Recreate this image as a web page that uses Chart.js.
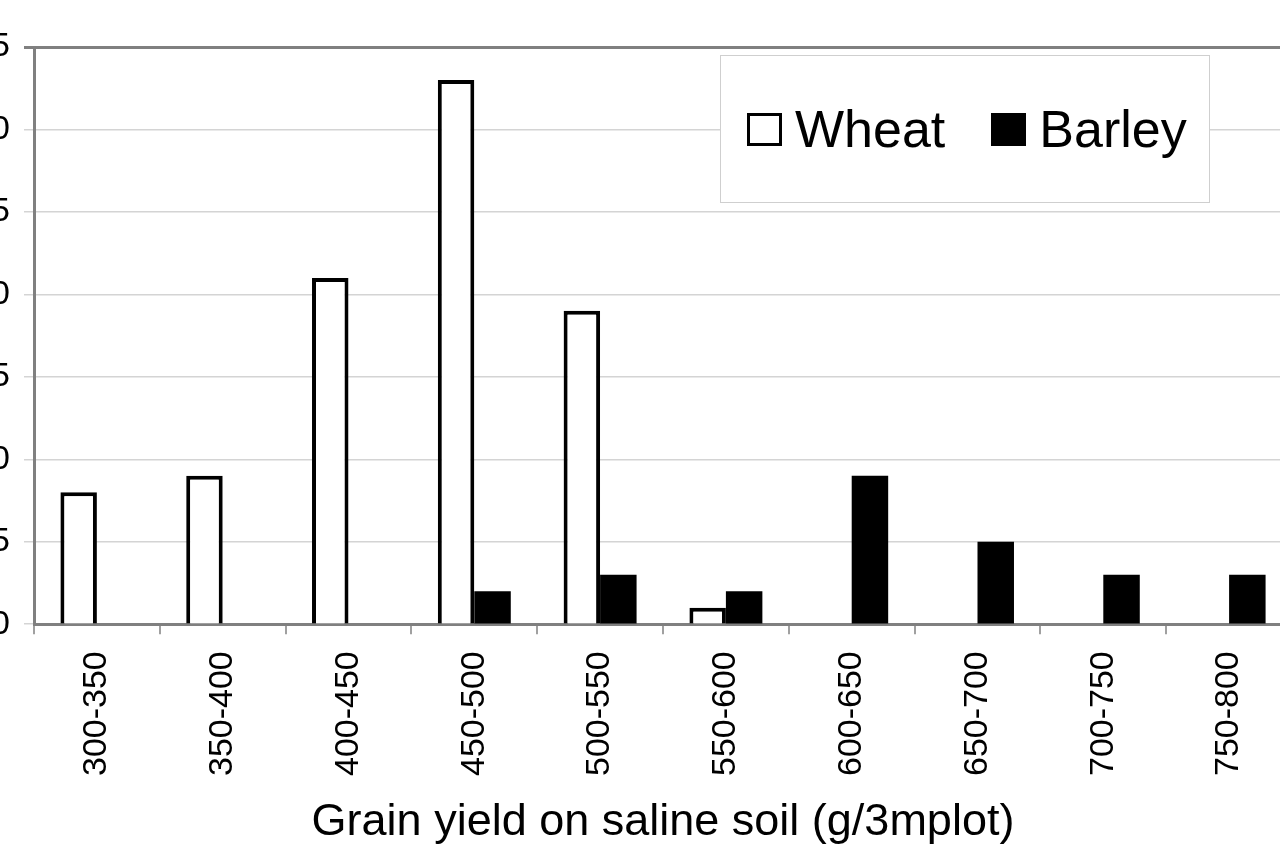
<!DOCTYPE html>
<html>
<head>
<meta charset="utf-8">
<script src="https://cdn.jsdelivr.net/npm/chart.js"></script>
<style>
  html, body { margin: 0; padding: 0; background: #fff; overflow: hidden; }
  body { width: 1280px; height: 853px; position: relative; }
  #wrap { position: absolute; left: -60px; top: 0; width: 1362px; height: 853px; }
  #legend {
    position: absolute; left: 720px; top: 55px; width: 490px; height: 148px;
    border: 1.5px solid #cfcfcf; background: #fff;
    font-family: "Liberation Sans", Arial, sans-serif; font-size: 52px; color: #000;
    display: flex; align-items: center; padding-left: 26px; box-sizing: border-box;
  }
  .item { display: flex; align-items: center; margin-right: 46px; }
  .box { width: 35px; height: 33px; box-sizing: border-box; border: 3px solid #000; margin-right: 13px; }
</style>
</head>
<body>
<div id="wrap"><canvas id="yieldChart"></canvas></div>
<div id="legend"></div>
<script>
const categories = ['300-350', '350-400', '400-450', '450-500', '500-550', '550-600', '600-650', '650-700', '700-750', '750-800'];
const wheat = [8, 9, 21, 33, 19, 1, 0, 0, 0, 0];
const barley = [0, 0, 0, 2, 3, 2, 9, 5, 3, 3];
const yTicks = [0, 5, 10, 15, 20, 25, 30, 35];

const font = "'Liberation Sans', Arial, sans-serif";

const ctx = document.getElementById('yieldChart').getContext('2d');
const yieldChart = new Chart(ctx, {
    type: 'bar',
    data: {
        labels: categories,
        datasets: [{
            label: 'Wheat',
            data: wheat,
            backgroundColor: '#ffffff',
            borderColor: '#000000',
            borderWidth: 4
        }, {
            label: 'Barley',
            data: barley,
            backgroundColor: '#000000',
            borderColor: '#000000',
            borderWidth: 0
        }]
    },
    options: {
        responsive: true,
        maintainAspectRatio: false,
        animation: false,
        layout: { padding: { top: 47, right: 10, bottom: 3, left: 0 } },
        plugins: {
            legend: { display: false },
            tooltip: { enabled: false }
        },
        datasets: {
            bar: { barPercentage: 1, categoryPercentage: 0.58 }
        },
        scales: {
            x: {
                grid: { drawOnChartArea: false, drawTicks: true, tickLength: 10, color: '#a0a0a0', lineWidth: 2 },
                border: { color: '#808080', width: 3 },
                ticks: {
                    color: '#000', font: { family: font, size: 34 },
                    minRotation: 90, maxRotation: 90, padding: 17, autoSkip: false
                },
                title: {
                    display: true, text: 'Grain yield on saline soil (g/3mplot)',
                    color: '#000', font: { family: font, size: 45 }, padding: { top: 3, bottom: 0 }
                }
            },
            y: {
                min: 0, max: 35,
                afterBuildTicks: s => { s.ticks = yTicks.map(v => ({ value: v })); },
                afterFit: s => { s.width = 94; },
                grid: {
                    tickLength: 10,
                    color: c => c.tick && c.tick.value === 35 ? '#808080' : '#d4d4d4',
                    lineWidth: c => c.tick && c.tick.value === 35 ? 3 : 1.5
                },
                border: { color: '#808080', width: 3 },
                ticks: { color: '#000', font: { family: font, size: 34 }, padding: 14 }
            }
        }
    }
});

// legend built from the datasets
const legend = document.getElementById('legend');
yieldChart.data.datasets.forEach(ds => {
    const item = document.createElement('div');
    item.className = 'item';
    const box = document.createElement('span');
    box.className = 'box';
    box.style.background = ds.backgroundColor;
    const txt = document.createElement('span');
    txt.textContent = ds.label;
    item.appendChild(box);
    item.appendChild(txt);
    legend.appendChild(item);
});
</script>
</body>
</html>
